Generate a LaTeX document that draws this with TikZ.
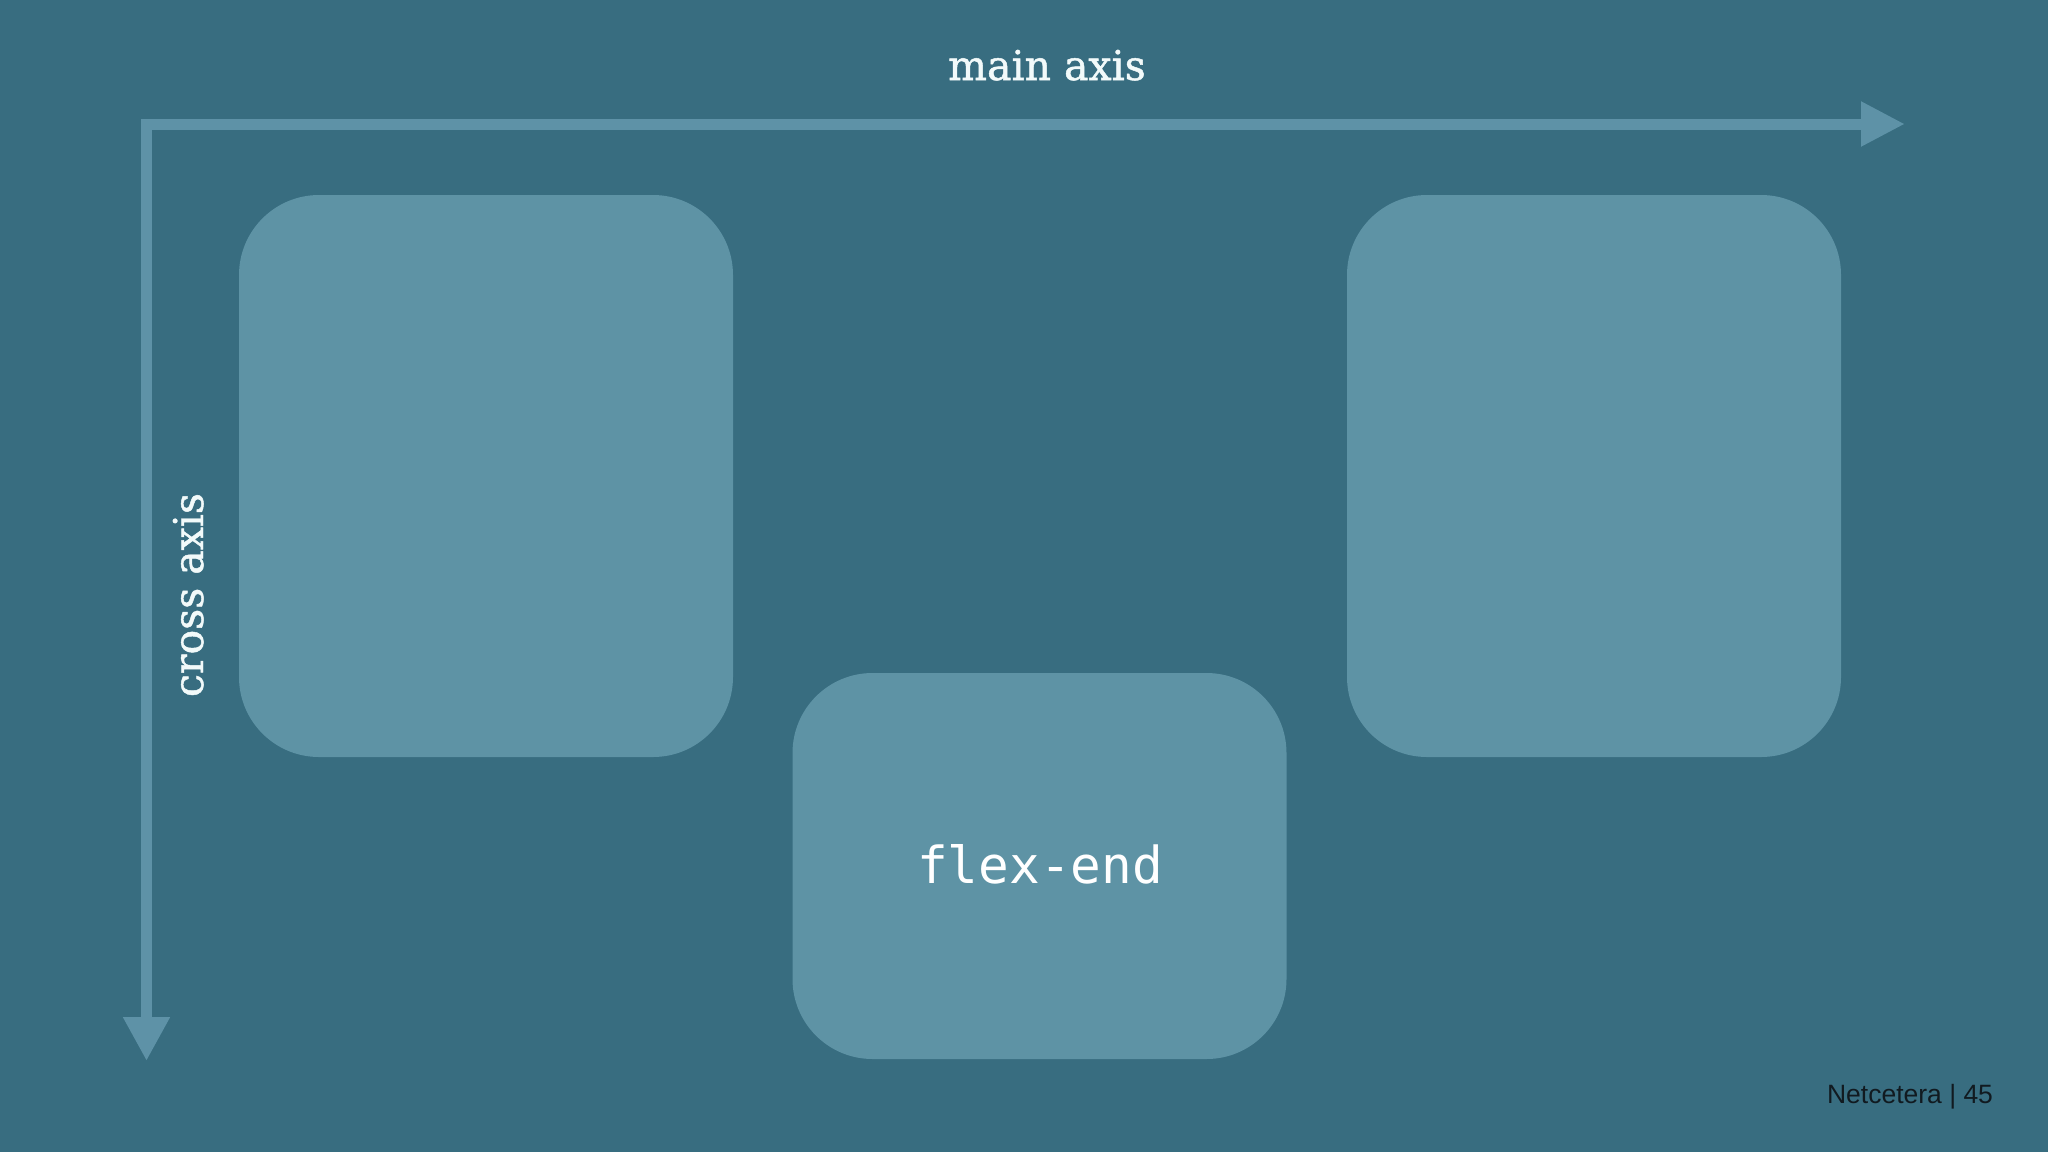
\documentclass[tikz,border=0pt]{standalone}
\usepackage{fontspec}
\setmainfont{DejaVu Serif}
\newfontfamily\axisfont[FakeBold=1.2]{DejaVu Serif}
\newfontfamily\monofont{DejaVu Sans Mono}
\newfontfamily\footfont{Liberation Sans}
\usetikzlibrary{arrows.meta}
\definecolor{bgc}{HTML}{386D80}
\definecolor{axc}{HTML}{5E92A7}
\definecolor{boxc}{HTML}{5E93A5}
\definecolor{txtc}{HTML}{F2FAFA}
\definecolor{footc}{HTML}{111A20}
\tikzset{
  flexbox/.style={fill=boxc, draw=none, rounded corners=80pt, inner sep=0pt, minimum width=494pt},
  axisline/.style={draw=axc, line width=11pt, line join=miter,
    {Triangle[length=44pt,width=44pt]}-{Triangle[length=44pt,width=42pt]}},
  axislabel/.style={text=txtc, inner sep=0pt, font=\axisfont\fontsize{41}{48}\selectfont}
}
\begin{document}
\begin{tikzpicture}[x=1pt,y=-1pt]
\useasboundingbox (0,0) rectangle (2048,1152);
\fill[bgc] (0,0) rectangle (2048,1152);
% boxes
\node[flexbox, minimum height=562pt] (box1) at (486,476) {};
\node[flexbox, minimum height=386pt] (box2) at (1039.5,866) {};
\node[text=white, inner sep=0pt, font=\monofont\fontsize{51}{56}\selectfont, anchor=base] (flex) at (1040,883) {flex-end};
\node[flexbox, minimum height=562pt] (box3) at (1594,476) {};
% axes
\coordinate (ytip) at (146.5,1061);
\coordinate (corner) at (146.5,124);
\coordinate (xtip) at (1905,124);
\draw[axisline] (ytip) -- (corner) -- (xtip);
% labels
\node[axislabel, anchor=base] (mainlbl) at (1047,80) {main axis};
\node[axislabel, anchor=base, rotate=90] (crosslbl) at (203,595) {cross axis};
\node[text=footc, inner sep=0pt, anchor=base, font=\footfont\fontsize{26.5}{30}\selectfont] (footer) at (1910,1103) {Netcetera | 45};
\end{tikzpicture}
\end{document}
